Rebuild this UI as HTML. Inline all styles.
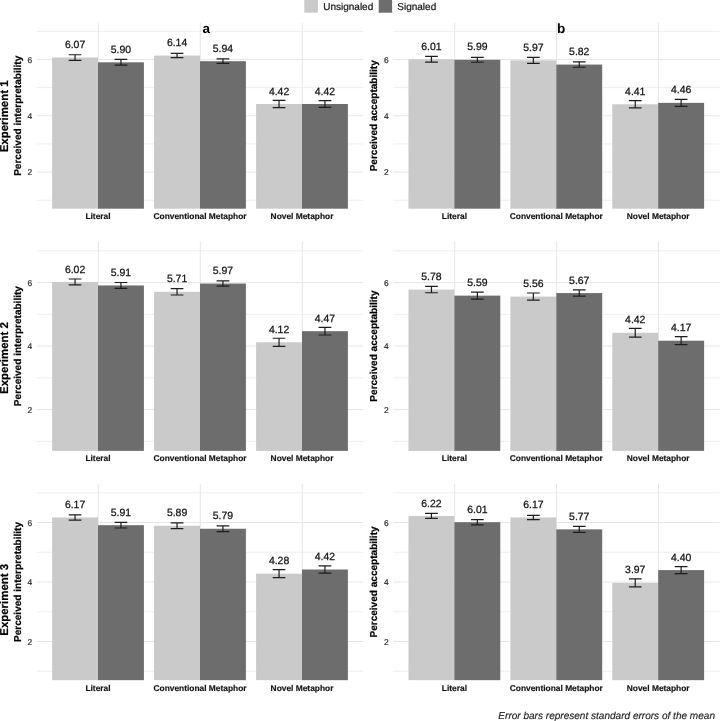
<!DOCTYPE html>
<html><head><meta charset="utf-8"><title>Perceived interpretability and acceptability</title>
<style>
html,body{margin:0;padding:0;background:#fff;}
body{width:720px;height:721px;overflow:hidden;}
svg{display:block;font-family:"Liberation Sans",Arial,sans-serif;text-rendering:geometricPrecision;}
.gm{stroke:#efefef;stroke-width:1;}
.gM{stroke:#e6e6e6;stroke-width:1;}
.eb{stroke:#1c1c1c;stroke-width:1.2;fill:none;}
.vl{font-size:10.45px;text-anchor:middle;fill:#111;stroke:#111;stroke-width:0.25px;}
.yt{font-size:8.4px;text-anchor:end;fill:#2a2a2a;stroke:#2a2a2a;stroke-width:0.2px;}
.xl{font-size:8.4px;font-weight:bold;text-anchor:middle;fill:#111;stroke:#111;stroke-width:0.15px;}
.yti{font-size:10.05px;font-weight:bold;text-anchor:middle;fill:#000;stroke:#000;stroke-width:0.2px;}
.exp{font-size:11.45px;font-weight:bold;text-anchor:middle;fill:#000;stroke:#000;stroke-width:0.2px;}
.pt{font-size:13.5px;font-weight:bold;fill:#000;}
.lg{font-size:10px;fill:#111;stroke:#111;stroke-width:0.2px;}
.cap{font-size:10.05px;font-style:italic;text-anchor:end;fill:#222;stroke:#222;stroke-width:0.15px;}
</style></head>
<body>
<svg width="720" height="721" viewBox="0 0 720 721">
<rect width="720" height="721" fill="#fff"/>
<line x1="36.8" x2="363.2" y1="200.25" y2="200.25" class="gm"/>
<line x1="36.8" x2="363.2" y1="143.95" y2="143.95" class="gm"/>
<line x1="36.8" x2="363.2" y1="87.65" y2="87.65" class="gm"/>
<line x1="36.8" x2="363.2" y1="31.35" y2="31.35" class="gm"/>
<line x1="36.8" x2="363.2" y1="172.1" y2="172.1" class="gM"/>
<line x1="36.8" x2="363.2" y1="115.8" y2="115.8" class="gM"/>
<line x1="36.8" x2="363.2" y1="59.5" y2="59.5" class="gM"/>
<line x1="98.3" x2="98.3" y1="22.91" y2="208.69" class="gM"/>
<line x1="200.3" x2="200.3" y1="22.91" y2="208.69" class="gM"/>
<line x1="302.3" x2="302.3" y1="22.91" y2="208.69" class="gM"/>
<rect x="52.1" y="57.53" width="45.9" height="151.17" fill="#cacaca"/>
<rect x="98" y="62.31" width="45.9" height="146.38" fill="#6d6d6d"/>
<rect x="154.1" y="55.56" width="45.9" height="153.14" fill="#cacaca"/>
<rect x="200" y="61.19" width="45.9" height="147.51" fill="#6d6d6d"/>
<rect x="256.1" y="103.98" width="45.9" height="104.72" fill="#cacaca"/>
<rect x="302" y="103.98" width="45.9" height="104.72" fill="#6d6d6d"/>
<path d="M68.7 54.77H81.4M75.05 54.77V60.29M68.7 60.29H81.4" class="eb"/>
<text x="75.05" y="48.08" class="vl">6.07</text>
<path d="M114.6 59.42H127.3M120.95 59.42V65.21M114.6 65.21H127.3" class="eb"/>
<text x="120.95" y="52.86" class="vl">5.90</text>
<path d="M170.7 53.42H183.4M177.05 53.42V57.7M170.7 57.7H183.4" class="eb"/>
<text x="177.05" y="46.11" class="vl">6.14</text>
<path d="M216.6 58.94H229.3M222.95 58.94V63.44M216.6 63.44H229.3" class="eb"/>
<text x="222.95" y="51.74" class="vl">5.94</text>
<path d="M272.7 100.37H285.4M279.05 100.37V107.58M272.7 107.58H285.4" class="eb"/>
<text x="279.05" y="94.53" class="vl">4.42</text>
<path d="M318.6 100.63H331.3M324.95 100.63V107.33M318.6 107.33H331.3" class="eb"/>
<text x="324.95" y="94.53" class="vl">4.42</text>
<text x="32.2" y="175.3" class="yt">2</text>
<text x="32.2" y="119" class="yt">4</text>
<text x="32.2" y="62.7" class="yt">6</text>
<text x="98" y="219.09" class="xl">Literal</text>
<text x="200" y="219.09" class="xl">Conventional Metaphor</text>
<text x="302" y="219.09" class="xl">Novel Metaphor</text>
<text transform="translate(20.8,115.8) rotate(-90)" class="yti">Perceived interpretability</text>
<line x1="393.3" x2="719.7" y1="200.25" y2="200.25" class="gm"/>
<line x1="393.3" x2="719.7" y1="143.95" y2="143.95" class="gm"/>
<line x1="393.3" x2="719.7" y1="87.65" y2="87.65" class="gm"/>
<line x1="393.3" x2="719.7" y1="31.35" y2="31.35" class="gm"/>
<line x1="393.3" x2="719.7" y1="172.1" y2="172.1" class="gM"/>
<line x1="393.3" x2="719.7" y1="115.8" y2="115.8" class="gM"/>
<line x1="393.3" x2="719.7" y1="59.5" y2="59.5" class="gM"/>
<line x1="454.7" x2="454.7" y1="22.91" y2="208.69" class="gM"/>
<line x1="556.6" x2="556.6" y1="22.91" y2="208.69" class="gM"/>
<line x1="658.5" x2="658.5" y1="22.91" y2="208.69" class="gM"/>
<rect x="408.5" y="59.22" width="45.9" height="149.48" fill="#cacaca"/>
<rect x="454.4" y="59.78" width="45.9" height="148.91" fill="#6d6d6d"/>
<rect x="510.4" y="60.34" width="45.9" height="148.35" fill="#cacaca"/>
<rect x="556.3" y="64.57" width="45.9" height="144.13" fill="#6d6d6d"/>
<rect x="612.3" y="104.26" width="45.9" height="104.44" fill="#cacaca"/>
<rect x="658.2" y="102.85" width="45.9" height="105.84" fill="#6d6d6d"/>
<path d="M425.1 56.38H437.8M431.45 56.38V62.06M425.1 62.06H437.8" class="eb"/>
<text x="431.45" y="49.77" class="vl">6.01</text>
<path d="M471 57.33H483.7M477.35 57.33V62.23M471 62.23H483.7" class="eb"/>
<text x="477.35" y="50.33" class="vl">5.99</text>
<path d="M527 57.33H539.7M533.35 57.33V63.36M527 63.36H539.7" class="eb"/>
<text x="533.35" y="50.89" class="vl">5.97</text>
<path d="M572.9 61.86H585.6M579.25 61.86V67.27M572.9 67.27H585.6" class="eb"/>
<text x="579.25" y="55.12" class="vl">5.82</text>
<path d="M628.9 100.54H641.6M635.25 100.54V107.97M628.9 107.97H641.6" class="eb"/>
<text x="635.25" y="94.81" class="vl">4.41</text>
<path d="M674.8 99.39H687.5M681.15 99.39V106.31M674.8 106.31H687.5" class="eb"/>
<text x="681.15" y="93.4" class="vl">4.46</text>
<text x="388.7" y="175.3" class="yt">2</text>
<text x="388.7" y="119" class="yt">4</text>
<text x="388.7" y="62.7" class="yt">6</text>
<text x="454.4" y="219.09" class="xl">Literal</text>
<text x="556.3" y="219.09" class="xl">Conventional Metaphor</text>
<text x="658.2" y="219.09" class="xl">Novel Metaphor</text>
<text transform="translate(377.3,115.8) rotate(-90)" class="yti">Perceived acceptability</text>
<text transform="translate(8.4,116.4) rotate(-90)" class="exp">Experiment 1</text>
<line x1="36.8" x2="363.2" y1="441.35" y2="441.35" class="gm"/>
<line x1="36.8" x2="363.2" y1="377.85" y2="377.85" class="gm"/>
<line x1="36.8" x2="363.2" y1="314.35" y2="314.35" class="gm"/>
<line x1="36.8" x2="363.2" y1="250.85" y2="250.85" class="gm"/>
<line x1="36.8" x2="363.2" y1="409.6" y2="409.6" class="gM"/>
<line x1="36.8" x2="363.2" y1="346.1" y2="346.1" class="gM"/>
<line x1="36.8" x2="363.2" y1="282.6" y2="282.6" class="gM"/>
<line x1="98.3" x2="98.3" y1="241.33" y2="450.88" class="gM"/>
<line x1="200.3" x2="200.3" y1="241.33" y2="450.88" class="gM"/>
<line x1="302.3" x2="302.3" y1="241.33" y2="450.88" class="gM"/>
<rect x="52.1" y="281.97" width="45.9" height="168.91" fill="#cacaca"/>
<rect x="98" y="285.46" width="45.9" height="165.42" fill="#6d6d6d"/>
<rect x="154.1" y="291.81" width="45.9" height="159.07" fill="#cacaca"/>
<rect x="200" y="283.55" width="45.9" height="167.32" fill="#6d6d6d"/>
<rect x="256.1" y="342.29" width="45.9" height="108.58" fill="#cacaca"/>
<rect x="302" y="331.18" width="45.9" height="119.7" fill="#6d6d6d"/>
<path d="M68.7 279.01H81.4M75.05 279.01V284.92M68.7 284.92H81.4" class="eb"/>
<text x="75.05" y="272.52" class="vl">6.02</text>
<path d="M114.6 282.5H127.3M120.95 282.5V288.41M114.6 288.41H127.3" class="eb"/>
<text x="120.95" y="276.01" class="vl">5.91</text>
<path d="M170.7 288.6H183.4M177.05 288.6V295.01M170.7 295.01H183.4" class="eb"/>
<text x="177.05" y="282.36" class="vl">5.71</text>
<path d="M216.6 280.92H229.3M222.95 280.92V286.19M216.6 286.19H229.3" class="eb"/>
<text x="222.95" y="274.1" class="vl">5.97</text>
<path d="M272.7 338.23H285.4M279.05 338.23V346.35M272.7 346.35H285.4" class="eb"/>
<text x="279.05" y="332.84" class="vl">4.12</text>
<path d="M318.6 327.37H331.3M324.95 327.37V334.99M318.6 334.99H331.3" class="eb"/>
<text x="324.95" y="321.73" class="vl">4.47</text>
<text x="32.2" y="412.8" class="yt">2</text>
<text x="32.2" y="349.3" class="yt">4</text>
<text x="32.2" y="285.8" class="yt">6</text>
<text x="98" y="461.27" class="xl">Literal</text>
<text x="200" y="461.27" class="xl">Conventional Metaphor</text>
<text x="302" y="461.27" class="xl">Novel Metaphor</text>
<text transform="translate(20.8,346.1) rotate(-90)" class="yti">Perceived interpretability</text>
<line x1="393.3" x2="719.7" y1="441.35" y2="441.35" class="gm"/>
<line x1="393.3" x2="719.7" y1="377.85" y2="377.85" class="gm"/>
<line x1="393.3" x2="719.7" y1="314.35" y2="314.35" class="gm"/>
<line x1="393.3" x2="719.7" y1="250.85" y2="250.85" class="gm"/>
<line x1="393.3" x2="719.7" y1="409.6" y2="409.6" class="gM"/>
<line x1="393.3" x2="719.7" y1="346.1" y2="346.1" class="gM"/>
<line x1="393.3" x2="719.7" y1="282.6" y2="282.6" class="gM"/>
<line x1="454.7" x2="454.7" y1="241.33" y2="450.88" class="gM"/>
<line x1="556.6" x2="556.6" y1="241.33" y2="450.88" class="gM"/>
<line x1="658.5" x2="658.5" y1="241.33" y2="450.88" class="gM"/>
<rect x="408.5" y="289.59" width="45.9" height="161.29" fill="#cacaca"/>
<rect x="454.4" y="295.62" width="45.9" height="155.26" fill="#6d6d6d"/>
<rect x="510.4" y="296.57" width="45.9" height="154.3" fill="#cacaca"/>
<rect x="556.3" y="293.08" width="45.9" height="157.8" fill="#6d6d6d"/>
<rect x="612.3" y="332.77" width="45.9" height="118.11" fill="#cacaca"/>
<rect x="658.2" y="340.7" width="45.9" height="110.17" fill="#6d6d6d"/>
<path d="M425.1 286.44H437.8M431.45 286.44V292.73M425.1 292.73H437.8" class="eb"/>
<text x="431.45" y="280.14" class="vl">5.78</text>
<path d="M471 292.16H483.7M477.35 292.16V299.08M471 299.08H483.7" class="eb"/>
<text x="477.35" y="286.17" class="vl">5.59</text>
<path d="M527 293.01H539.7M533.35 293.01V300.13M527 300.13H539.7" class="eb"/>
<text x="533.35" y="287.12" class="vl">5.56</text>
<path d="M572.9 289.97H585.6M579.25 289.97V296.19M572.9 296.19H585.6" class="eb"/>
<text x="579.25" y="283.63" class="vl">5.67</text>
<path d="M628.9 328.45H641.6M635.25 328.45V337.08M628.9 337.08H641.6" class="eb"/>
<text x="635.25" y="323.32" class="vl">4.42</text>
<path d="M674.8 336.7H687.5M681.15 336.7V344.7M674.8 344.7H687.5" class="eb"/>
<text x="681.15" y="331.25" class="vl">4.17</text>
<text x="388.7" y="412.8" class="yt">2</text>
<text x="388.7" y="349.3" class="yt">4</text>
<text x="388.7" y="285.8" class="yt">6</text>
<text x="454.4" y="461.27" class="xl">Literal</text>
<text x="556.3" y="461.27" class="xl">Conventional Metaphor</text>
<text x="658.2" y="461.27" class="xl">Novel Metaphor</text>
<text transform="translate(377.3,346.1) rotate(-90)" class="yti">Perceived acceptability</text>
<text transform="translate(8.4,358) rotate(-90)" class="exp">Experiment 2</text>
<line x1="36.8" x2="363.2" y1="671.25" y2="671.25" class="gm"/>
<line x1="36.8" x2="363.2" y1="611.75" y2="611.75" class="gm"/>
<line x1="36.8" x2="363.2" y1="552.25" y2="552.25" class="gm"/>
<line x1="36.8" x2="363.2" y1="492.75" y2="492.75" class="gm"/>
<line x1="36.8" x2="363.2" y1="641.5" y2="641.5" class="gM"/>
<line x1="36.8" x2="363.2" y1="582" y2="582" class="gM"/>
<line x1="36.8" x2="363.2" y1="522.5" y2="522.5" class="gM"/>
<line x1="98.3" x2="98.3" y1="483.82" y2="680.17" class="gM"/>
<line x1="200.3" x2="200.3" y1="483.82" y2="680.17" class="gM"/>
<line x1="302.3" x2="302.3" y1="483.82" y2="680.17" class="gM"/>
<rect x="52.1" y="517.44" width="45.9" height="162.73" fill="#cacaca"/>
<rect x="98" y="525.18" width="45.9" height="155" fill="#6d6d6d"/>
<rect x="154.1" y="525.77" width="45.9" height="154.4" fill="#cacaca"/>
<rect x="200" y="528.75" width="45.9" height="151.43" fill="#6d6d6d"/>
<rect x="256.1" y="573.67" width="45.9" height="106.5" fill="#cacaca"/>
<rect x="302" y="569.5" width="45.9" height="110.67" fill="#6d6d6d"/>
<path d="M68.7 514.85H81.4M75.05 514.85V520.03M68.7 520.03H81.4" class="eb"/>
<text x="75.05" y="507.99" class="vl">6.17</text>
<path d="M114.6 522.35H127.3M120.95 522.35V528M114.6 528H127.3" class="eb"/>
<text x="120.95" y="515.73" class="vl">5.91</text>
<path d="M170.7 522.89H183.4M177.05 522.89V528.66M170.7 528.66H183.4" class="eb"/>
<text x="177.05" y="516.32" class="vl">5.89</text>
<path d="M216.6 525.86H229.3M222.95 525.86V531.63M216.6 531.63H229.3" class="eb"/>
<text x="222.95" y="519.3" class="vl">5.79</text>
<path d="M272.7 569.71H285.4M279.05 569.71V577.63M272.7 577.63H285.4" class="eb"/>
<text x="279.05" y="564.22" class="vl">4.28</text>
<path d="M318.6 565.85H331.3M324.95 565.85V573.16M318.6 573.16H331.3" class="eb"/>
<text x="324.95" y="560.05" class="vl">4.42</text>
<text x="32.2" y="644.7" class="yt">2</text>
<text x="32.2" y="585.2" class="yt">4</text>
<text x="32.2" y="525.7" class="yt">6</text>
<text x="98" y="690.57" class="xl">Literal</text>
<text x="200" y="690.57" class="xl">Conventional Metaphor</text>
<text x="302" y="690.57" class="xl">Novel Metaphor</text>
<text transform="translate(20.8,582) rotate(-90)" class="yti">Perceived interpretability</text>
<line x1="393.3" x2="719.7" y1="671.25" y2="671.25" class="gm"/>
<line x1="393.3" x2="719.7" y1="611.75" y2="611.75" class="gm"/>
<line x1="393.3" x2="719.7" y1="552.25" y2="552.25" class="gm"/>
<line x1="393.3" x2="719.7" y1="492.75" y2="492.75" class="gm"/>
<line x1="393.3" x2="719.7" y1="641.5" y2="641.5" class="gM"/>
<line x1="393.3" x2="719.7" y1="582" y2="582" class="gM"/>
<line x1="393.3" x2="719.7" y1="522.5" y2="522.5" class="gM"/>
<line x1="454.7" x2="454.7" y1="483.82" y2="680.17" class="gM"/>
<line x1="556.6" x2="556.6" y1="483.82" y2="680.17" class="gM"/>
<line x1="658.5" x2="658.5" y1="483.82" y2="680.17" class="gM"/>
<rect x="408.5" y="515.96" width="45.9" height="164.22" fill="#cacaca"/>
<rect x="454.4" y="522.2" width="45.9" height="157.97" fill="#6d6d6d"/>
<rect x="510.4" y="517.44" width="45.9" height="162.73" fill="#cacaca"/>
<rect x="556.3" y="529.34" width="45.9" height="150.83" fill="#6d6d6d"/>
<rect x="612.3" y="582.89" width="45.9" height="97.28" fill="#cacaca"/>
<rect x="658.2" y="570.1" width="45.9" height="110.07" fill="#6d6d6d"/>
<path d="M425.1 513.46H437.8M431.45 513.46V518.45M425.1 518.45H437.8" class="eb"/>
<text x="431.45" y="506.51" class="vl">6.22</text>
<path d="M471 519.61H483.7M477.35 519.61V524.79M471 524.79H483.7" class="eb"/>
<text x="477.35" y="512.75" class="vl">6.01</text>
<path d="M527 515.3H539.7M533.35 515.3V519.58M527 519.58H539.7" class="eb"/>
<text x="533.35" y="507.99" class="vl">6.17</text>
<path d="M572.9 526.34H585.6M579.25 526.34V532.35M572.9 532.35H585.6" class="eb"/>
<text x="579.25" y="519.89" class="vl">5.77</text>
<path d="M628.9 578.91H641.6M635.25 578.91V586.88M628.9 586.88H641.6" class="eb"/>
<text x="635.25" y="573.44" class="vl">3.97</text>
<path d="M674.8 566.65H687.5M681.15 566.65V573.55M674.8 573.55H687.5" class="eb"/>
<text x="681.15" y="560.65" class="vl">4.40</text>
<text x="388.7" y="644.7" class="yt">2</text>
<text x="388.7" y="585.2" class="yt">4</text>
<text x="388.7" y="525.7" class="yt">6</text>
<text x="454.4" y="690.57" class="xl">Literal</text>
<text x="556.3" y="690.57" class="xl">Conventional Metaphor</text>
<text x="658.2" y="690.57" class="xl">Novel Metaphor</text>
<text transform="translate(377.3,582) rotate(-90)" class="yti">Perceived acceptability</text>
<text transform="translate(8.4,599.8) rotate(-90)" class="exp">Experiment 3</text>
<text x="202.4" y="32.9" class="pt">a</text>
<text x="556.9" y="32.9" class="pt">b</text>
<rect x="304.3" y="-5" width="13.6" height="17.7" fill="#cacaca"/>
<text x="323.2" y="9.95" class="lg">Unsignaled</text>
<rect x="378.7" y="-5" width="13.4" height="17.7" fill="#6d6d6d"/>
<text x="397.3" y="9.95" class="lg">Signaled</text>
<text x="715" y="718.5" class="cap">Error bars represent standard errors of the mean</text>
</svg>
</body></html>
